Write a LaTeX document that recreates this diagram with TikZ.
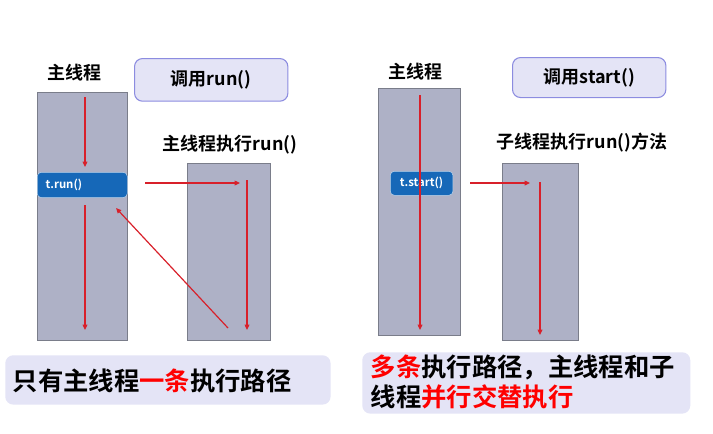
\documentclass[tikz,border=0pt]{standalone}
\usepackage{fontspec}
\setmainfont{Noto Sans CJK SC}[BoldFont={Noto Sans CJK SC Bold}]
\usetikzlibrary{arrows.meta}
\definecolor{barfill}{HTML}{AEB1C6}
\definecolor{barline}{HTML}{7A7D8A}
\definecolor{lav}{HTML}{E4E4F6}
\definecolor{lavline}{HTML}{8C8CE0}
\definecolor{callblue}{HTML}{1668B8}
\definecolor{arr}{HTML}{D8202A}
\begin{document}
\begin{tikzpicture}[x=0.75pt,y=-0.75pt,
  bar/.style={draw=barline,fill=barfill,line width=0.8pt},
  callbox/.style={draw=lavline,fill=lav,rounded corners=6pt,line width=0.8pt},
  blue/.style={draw=white!70!callblue,fill=callblue,rounded corners=3pt},
  lbl/.style={font=\bfseries\fontsize{13.5}{15}\selectfont},
  big/.style={font=\bfseries\fontsize{19}{22}\selectfont,align=left},
  ar/.style={draw=arr,line width=0.9pt,-{Triangle[length=4pt,width=3.5pt]}}]
\useasboundingbox (0,0) rectangle (713,433);
% left
\node[bar,minimum width=67.5pt,minimum height=186pt,anchor=north west,inner sep=0] (m1) at (37,92) {};
\node[blue,minimum width=67.5pt,minimum height=19pt,anchor=north west,inner sep=0] (run) at (37,172) {};
\node[text=white,font=\bfseries\fontsize{8.5}{9}\selectfont,anchor=west] (runt) at (41,184.5) {t.run()};
\node[lbl] (l1) at (74,73) {主线程};
\node[callbox,minimum width=115pt,minimum height=32pt,anchor=north west,inner sep=0,lbl] (c1) at (134,58) {调用run()};
\node[lbl] (l2) at (230,145) {主线程执行run()};
\node[bar,minimum width=62pt,minimum height=133pt,anchor=north west,inner sep=0] (r1) at (187,163) {};
\coordinate (a1) at (85,97); \coordinate (a2) at (85,167);
\coordinate (a3) at (85,205); \coordinate (a4) at (85,330);
\coordinate (a5) at (145,183); \coordinate (a6) at (240,183);
\coordinate (a7) at (247,180); \coordinate (a8) at (247,330);
\coordinate (a9) at (228,328); \coordinate (a10) at (116,208);
\draw[ar] (a1)--(a2); \draw[ar] (a3)--(a4); \draw[ar] (a5)--(a6);
\draw[ar] (a7)--(a8); \draw[ar] (a9)--(a10);
\node[fill=lav,rounded corners=6pt,minimum width=244pt,minimum height=37pt,anchor=north west,inner sep=0] (b1) at (5,355) {};
\node[big,anchor=west] (b1t) at (8,381) {只有主线程\textcolor{red}{一条}执行路径};
% right
\node[bar,minimum width=61.5pt,minimum height=185pt,anchor=north west,inner sep=0] (m2) at (378,88) {};
\node[blue,minimum width=47pt,minimum height=18pt,anchor=north west,inner sep=0] (st) at (390,171) {};
\node[text=white,font=\bfseries\fontsize{8.5}{9}\selectfont] (stt) at (421.5,183) {t.start()};
\node[lbl] (l3) at (415,72) {主线程};
\node[callbox,minimum width=115pt,minimum height=30pt,anchor=north west,inner sep=0,lbl] (c2) at (512,57) {调用start()};
\node[lbl] (l4) at (582,143) {子线程执行run()方法};
\node[bar,minimum width=57pt,minimum height=133pt,anchor=north west,inner sep=0] (r2) at (502,163) {};
\coordinate (b1s) at (420,95); \coordinate (b1e) at (420,330);
\coordinate (b2s) at (470,183); \coordinate (b2e) at (530,183);
\coordinate (b3s) at (540,182); \coordinate (b3e) at (540,335);
\draw[ar] (b1s)--(b1e); \draw[ar] (b2s)--(b2e); \draw[ar] (b3s)--(b3e);
\node[fill=lav,rounded corners=6pt,minimum width=246pt,minimum height=46pt,anchor=north west,inner sep=0] (b2) at (362,352) {};
\node[big,anchor=west] (b2t) at (366,382) {\textcolor{red}{多条}执行路径，主线程和子\\线程\textcolor{red}{并行交替执行}};
\end{tikzpicture}
\end{document}
